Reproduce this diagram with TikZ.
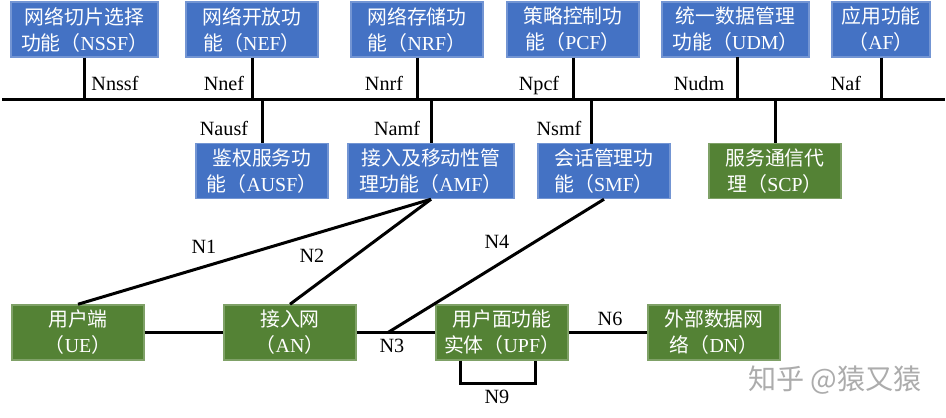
\documentclass[tikz,border=0pt]{standalone}
\usepackage{fontspec}
\setmainfont{Liberation Serif}
\newfontfamily\cjk{Noto Sans CJK SC}
\newcommand{\zh}[1]{{\cjk #1}}
\definecolor{nfblue}{HTML}{4472C4}
\definecolor{nfgreen}{HTML}{548235}
\tikzset{
	nfbox/.style={fill=#1, draw=#1!75!white, line width=.3mm, text=white, align=center, inner sep=0pt, minimum height=1.1cm, font=\fontsize{11.3}{14.8}\selectfont},
	link/.style={line width=.6mm, black},
	iface/.style={inner sep=0pt, text height=8pt, text depth=2.2pt, font=\fontsize{11.5}{14}\selectfont}
}

\begin{document}
\begin{tikzpicture}[x=.02cm, y=-.02cm]
			\useasboundingbox (0,0) rectangle (946,418);
			\node[nfbox=nfblue, minimum width=2.94cm] (nssf) at (84.5,29.5) {\zh{网络切片选择}\\\zh{功能（}NSSF\zh{）}};
			\node[nfbox=nfblue, minimum width=2.64cm] (nef) at (252,29.5) {\zh{网络开放功}\\\zh{能（}NEF\zh{）}};
			\node[nfbox=nfblue, minimum width=2.64cm] (nrf) at (417,29.5) {\zh{网络存储功}\\\zh{能（}NRF\zh{）}};
			\node[nfbox=nfblue, minimum width=2.64cm] (pcf) at (573,29.5) {\zh{策略控制功}\\\zh{能（}PCF\zh{）}};
			\node[nfbox=nfblue, minimum width=2.94cm] (udm) at (735.5,29.5) {\zh{统一数据管理}\\\zh{功能（}UDM\zh{）}};
			\node[nfbox=nfblue, minimum width=1.96cm] (af) at (881,29.5) {\zh{应用功能}\\\zh{（}AF\zh{）}};
			\node[nfbox=nfblue, minimum width=2.64cm] (ausf) at (262,171) {\zh{鉴权服务功}\\\zh{能（}AUSF\zh{）}};
			\node[nfbox=nfblue, minimum width=3.32cm] (amf) at (431,171) {\zh{接入及移动性管}\\\zh{理功能（}AMF\zh{）}};
			\node[nfbox=nfblue, minimum width=2.64cm] (smf) at (604,171) {\zh{会话管理功}\\\zh{能（}SMF\zh{）}};
			\node[nfbox=nfgreen, minimum width=2.64cm] (scp) at (775,171) {\zh{服务通信代}\\\zh{理（}SCP\zh{）}};
			\node[nfbox=nfgreen, minimum width=2.64cm] (ue) at (78,332.5) {\zh{用户端}\\\zh{（}UE\zh{）}};
			\node[nfbox=nfgreen, minimum width=2.64cm] (an) at (290,332.5) {\zh{接入网}\\\zh{（}AN\zh{）}};
			\node[nfbox=nfgreen, minimum width=2.64cm] (upf) at (502,332.5) {\zh{用户面功能}\\\zh{实体（}UPF\zh{）}};
			\node[nfbox=nfgreen, minimum width=2.64cm] (dn) at (714,332.5) {\zh{外部数据网}\\\zh{络（}DN\zh{）}};
			\coordinate (busleft) at (2,100);
			\coordinate (busright) at (945,100);
			\coordinate (smftop) at (591,144);
			\coordinate (udmbottom) at (737,57);
			\coordinate (n3join) at (388,332.5);
			\coordinate (loopleft) at (460,383);
			\coordinate (loopright) at (535,383);
			\draw[link] (busleft) -- (busright);
			\draw[link] (nssf.south) -- (nssf.south |- busleft);
			\draw[link] (nef.south) -- (nef.south |- busleft);
			\draw[link] (nrf.south) -- (nrf.south |- busleft);
			\draw[link] (pcf.south) -- (pcf.south |- busleft);
			\draw[link] (udmbottom) -- (udmbottom |- busleft);
			\draw[link] (af.south) -- (af.south |- busleft);
			\draw[link] (ausf.north) -- (ausf.north |- busleft);
			\draw[link] (amf.north) -- (amf.north |- busleft);
			\draw[link] (smftop) -- (smftop |- busleft);
			\draw[link] (scp.north) -- (scp.north |- busleft);
			\draw[link] (amf.south) -- (ue.north);
			\draw[link] (amf.south) -- (an.north);
			\draw[link] (smf.south) -- (n3join);
			\draw[link] (ue.east) -- (an.west);
			\draw[link] (an.east) -- (upf.west);
			\draw[link] (upf.east) -- (dn.west);
			\draw[link] (loopleft |- upf.south) -- (loopleft) -- (loopright) -- (loopright |- upf.south);
			\node[iface] (nnssf) at (115,85) {Nnssf};
			\node[iface] (nnef) at (224,85) {Nnef};
			\node[iface] (nnrf) at (384,85) {Nnrf};
			\node[iface] (npcf) at (539,85) {Npcf};
			\node[iface] (nudm) at (699,85) {Nudm};
			\node[iface] (naf) at (846,85) {Naf};
			\node[iface] (nausf) at (224,130) {Nausf};
			\node[iface] (namf) at (397,130) {Namf};
			\node[iface] (nsmf) at (559,130) {Nsmf};
			\node[iface] (none) at (204,248) {N1};
			\node[iface] (ntwo) at (312,257) {N2};
			\node[iface] (nthree) at (392,347) {N3};
			\node[iface] (nfour) at (497,243) {N4};
			\node[iface] (nsix) at (610,320) {N6};
			\node[iface] (nnine) at (497,398) {N9};
			\node[inner sep=0pt, text=gray!65, font=\fontsize{16}{18}\selectfont] (watermark) at (835,380) {\zh{知乎 @猿又猿}};
		\end{tikzpicture}
\end{document}
